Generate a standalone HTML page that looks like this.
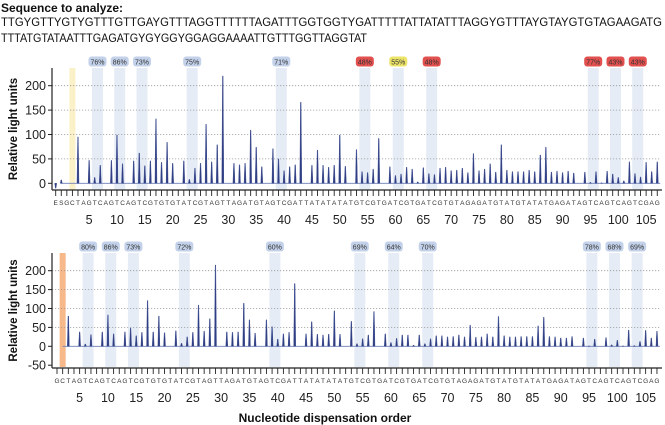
<!DOCTYPE html>
<html><head><meta charset="utf-8"><style>
html,body{margin:0;padding:0;background:#fff;}
svg{display:block;font-family:"Liberation Sans",sans-serif;}
</style></head><body>
<svg id="chart" width="665" height="425" viewBox="0 0 665 425" xmlns="http://www.w3.org/2000/svg">
<text x="1" y="12" font-size="12" font-weight="bold" fill="#111">Sequence to analyze:</text>
<text x="1" y="26" font-size="12" fill="#111" textLength="661" lengthAdjust="spacingAndGlyphs">TTGYGTTYGTYGTTTGTTGAYGTTTAGGTTTTTTAGATTTGGTGGTYGATTTTTATTATATTTAGGYGTTTAYGTAYGTGTAGAAGATG</text>
<text x="1" y="42" font-size="12" fill="#111" textLength="366" lengthAdjust="spacingAndGlyphs">TTTATGTATAATTTGAGATGYGYGGYGGAGGAAAATTGTTTGGTTAGGTAT</text>
<g id="top"></g>
<g id="bot"></g>
<text x="325" y="422" font-size="12" font-weight="bold" text-anchor="middle" fill="#111">Nucleotide dispensation order</text>
</svg>
<script>
const topSeq = "ESGCTAGTCAGTCAGTCGTGTGTATCGTAGTTAGATGTAGTCGATTATATATATGTCGTGATCGTGATCGTGTAGAGATGTATGTATATGAGATAGTCAGTCAGTCGAG";
const botSeq = "GCTAGTCAGTCAGTCGTGTGTATCGTAGTTAGATGTAGTCGATTATATATATGTCGTGATCGTGATCGTGTAGAGATGTATGTATATGAGATAGTCAGTCAGTCGAG";
const topValues = [-10,7,0,0,95,0,47,12,37,0,47,99,40,0,46,62,36,46,132,43,84,41,0,46,8,31,41,121,44,79,220,0,41,38,41,109,74,34,0,71,50,26,34,38,166,0,37,68,37,33,37,99,35,0,69,24,22,29,92,0,34,16,19,33,29,3,32,20,18,31,33,26,27,31,22,61,26,29,40,23,79,27,24,24,24,27,24,58,74,23,25,22,25,21,0,23,2,24,1,25,19,12,5,44,20,13,43,24,44];
const botValues = [0,0,80,0,38,6,31,0,38,83,33,0,38,48,28,37,121,38,80,36,0,41,8,25,37,109,40,73,215,0,38,37,38,114,70,35,0,70,52,19,33,37,166,0,33,65,32,30,32,94,32,0,66,7,20,30,92,0,33,10,21,30,30,3,30,7,20,28,28,25,26,30,25,56,24,25,33,25,79,28,25,25,26,26,26,54,77,26,25,22,22,26,0,22,1,19,0,23,4,16,1,43,2,13,42,22,40];
const topBands = [7.5,11.5,15.5,24.5,40.5,55.5,61.5,67.5,96.5,100.5,104.5];
const topBandLabels = ["76%","86%","73%","75%","71%","48%","55%","48%","77%","43%","43%"];
const topBandColors = ["b","b","b","b","b","r","y","r","r","r","r"];
const botBands = [5.5,9.5,13.5,22.5,38.5,53.5,59.5,65.5,94.5,98.5,102.5];
const botBandLabels = ["80%","86%","73%","72%","60%","69%","64%","70%","78%","68%","69%"];
const topTicks = [0,50,100,150,200];
const botTicks = [-50,0,50,100,150,200];
const numberLabels = [5,10,15,20,25,30,35,40,45,50,55,60,65,70,75,80,85,90,95,100,105];

const NS="http://www.w3.org/2000/svg";
function mk(parent,tag,attrs,text){const e=document.createElementNS(NS,tag);for(const k in attrs)e.setAttribute(k,attrs[k]);if(text!==undefined)e.textContent=text;parent.appendChild(e);return e;}
const pal={b:"#c3d2ea",r:"#e2504f",y:"#ece46a"};

function draw(g,cfg){
  const {seq,vals,bands,labels,colors,ticks,xf,yf,axTop,axBot,xAxisY,hiIdx,hiColor,numIdx,labY,prefix}=cfg;
  bands.forEach((b,k)=>{
    const r=mk(g,"rect",{x:xf(b)-5.5,y:axTop,width:11,height:axBot-axTop,fill:"#e6ecf6"});
    
    
    const c=colors?colors[k]:"b";
    const lb=mk(g,"rect",{x:xf(b)-9,y:labY-5.5,width:18,height:10,rx:3,fill:pal[c]});
    
    
    const t=mk(g,"text",{x:xf(b),y:labY+2.5,"font-size":7,"text-anchor":"middle",fill:"#333"},labels[k]);
    
    
  });
  const hi=mk(g,"rect",{x:xf(hiIdx)-3,y:axTop,width:6,height:axBot-axTop,fill:hiColor});
  
  
  ticks.forEach(v=>{
    const y=yf(v);
    if(v>0){const l=mk(g,"line",{x1:52,x2:660,y1:y,y2:y,stroke:"#999","stroke-width":0.8,"stroke-dasharray":"1.2,1.8"});
      }
    mk(g,"line",{x1:48,x2:52,y1:y,y2:y,stroke:"#222","stroke-width":1});
    const t=mk(g,"text",{x:46,y:y+4.5,"font-size":12.5,"text-anchor":"end",fill:"#222"},String(v));
    
  });
  mk(g,"line",{x1:52,x2:52,y1:axTop,y2:xAxisY,stroke:"#222","stroke-width":1.2});
  mk(g,"line",{x1:52,x2:662,y1:xAxisY,y2:xAxisY,stroke:"#222","stroke-width":1.3});
  mk(g,"line",{x1:xf(1),x2:xf(seq.length-1)+3,y1:yf(0),y2:yf(0),stroke:"#6f7fb8","stroke-width":0.8});
  vals.forEach((v,i)=>{
    if(v===0)return;
    const x=xf(i),b=yf(0),y=yf(v);
    const p=mk(g,"path",{d:`M${x-1.0},${b} L${x-0.3},${y} L${x+0.3},${y} L${x+1.0},${b} Z`,fill:"#2f3d82",stroke:"#34458c","stroke-width":0.4});
    
    
  });
  for(let i=0;i<seq.length;i++){
    const x=xf(i);
    mk(g,"line",{x1:x,x2:x,y1:xAxisY,y2:xAxisY+6,stroke:"#222","stroke-width":0.9});
    const t=mk(g,"text",{x:x,y:xAxisY+15,"font-size":6.5,"text-anchor":"middle",fill:"#333"},seq[i]);
    
  }
  numberLabels.forEach(n=>{
    const t=mk(g,"text",{x:xf(numIdx(n)),y:xAxisY+34,"font-size":12.5,"text-anchor":"middle",fill:"#222"},String(n));
    
  });
  const yl=mk(g,"text",{x:0,y:0,"font-size":11.5,"font-weight":"bold","text-anchor":"middle",fill:"#111",transform:`translate(17,${(axTop+xAxisY)/2}) rotate(-90)`},"Relative light units");
  
}

draw(document.getElementById("top"),{seq:topSeq,vals:topValues,bands:topBands,labels:topBandLabels,colors:topBandColors,ticks:topTicks,
  xf:i=>55.7+5.57*i,yf:v=>183.3-v*0.488,axTop:68,axBot:190,xAxisY:190,hiIdx:3,hiColor:"#fbf1c8",numIdx:n=>n+1,labY:62,prefix:"top"});
draw(document.getElementById("bot"),{seq:botSeq,vals:botValues,bands:botBands,labels:botBandLabels,colors:null,ticks:botTicks,
  xf:i=>57+5.66*i,yf:v=>346.3-v*0.378,axTop:253,axBot:367,xAxisY:368,hiIdx:1,hiColor:"#f8b98a",numIdx:n=>n-1,labY:247,prefix:"bottom"});
</script>
</body></html>
